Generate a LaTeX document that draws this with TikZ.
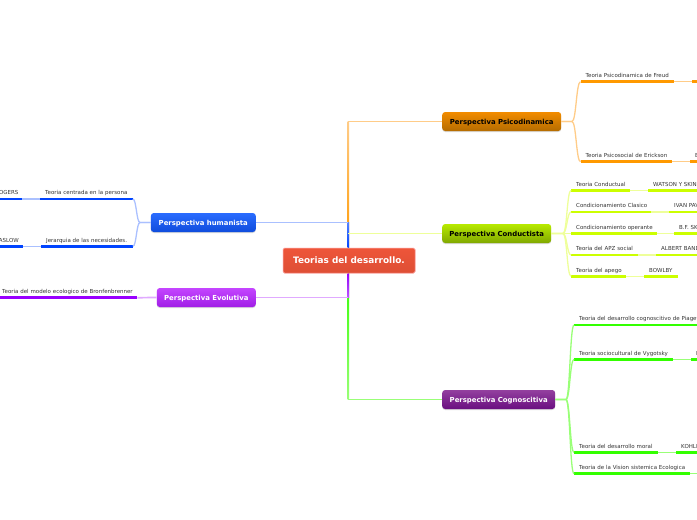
\documentclass[tikz,border=0pt]{standalone}
\usepackage{fontspec}
\setmainfont{DejaVu Sans}
\usetikzlibrary{calc,shadows}
\definecolor{oS}{HTML}{FF9900}\definecolor{oL}{HTML}{FFCC88}
\definecolor{yS}{HTML}{CCFF00}\definecolor{yL}{HTML}{EEFF99}
\definecolor{gS}{HTML}{33FF00}\definecolor{gL}{HTML}{99FF77}
\definecolor{bS}{HTML}{0044FF}\definecolor{bL}{HTML}{AAC0FF}
\definecolor{pS}{HTML}{9900FF}\definecolor{pL}{HTML}{E0AAFF}
\definecolor{txt}{HTML}{333333}
\definecolor{F1}{HTML}{EE5539}\definecolor{F2}{HTML}{DE4F35}
\definecolor{psiT}{HTML}{F28C00}\definecolor{psiB}{HTML}{B56C00}
\definecolor{conT}{HTML}{B8EA00}\definecolor{conB}{HTML}{80A800}
\definecolor{cogT}{HTML}{93409F}\definecolor{cogB}{HTML}{6A0F80}
\definecolor{humT}{HTML}{2A6CFF}\definecolor{humB}{HTML}{0F4CDC}
\definecolor{evoT}{HTML}{C445FF}\definecolor{evoB}{HTML}{A01EE6}
\tikzset{
  x=1pt,y=-1pt,
  branchbox/.style={rounded corners=3pt,minimum height=19pt,inner sep=0pt,anchor=west,
    text height=5pt,text depth=0pt,
    font=\fontsize{6.9}{8}\selectfont\bfseries,
    drop shadow={shadow xshift=0pt,shadow yshift=-1pt,opacity=.3}},
  rootbox/.style={rounded corners=1.5pt,minimum height=25pt,minimum width=132pt,inner sep=0pt,
    text height=6.5pt,text depth=0pt,
    font=\fontsize{8.9}{10}\selectfont\bfseries,text=white,draw=white!70!red,line width=.5pt,
    top color=F1,bottom color=F2},
  topicbox/.style={anchor=south west,inner xsep=5pt,inner ysep=3pt,text height=3.7pt,text depth=1pt,
    font=\fontsize{5.5}{6.5}\selectfont,text=txt},
  heavy/.style={line width=2.5pt},
  soft/.style={line width=1.3pt},
  trunk/.style={line width=1.7pt},
}
% name, x1, x2, y, colour, text
\newcommand{\topicnode}[6]{%
  \pgfmathsetmacro{\mytw}{#3-#2-10}%
  \node[topicbox,text width=\mytw pt] (#1) at (#2,#4) {\makebox[0pt][l]{#6}};
  \draw[heavy,#5] (#1.south west) -- (#1.south east);
}
% from, junction x, topic, colour ; right-hand side
\newcommand{\rlink}[4]{\draw[soft,#4] (#1.east) -- (#2,0 |- #1.east) coordinate (J)
   .. controls ($(J)!.5!(#3.south west |- J)$) and ($(#3.south west)!.5!(J |- #3.south west)$) .. (#3.south west);}
\newcommand{\llink}[4]{\draw[soft,#4] (#1.west) -- (#2,0 |- #1.west) coordinate (J)
   .. controls ($(J)!.5!(#3.south east |- J)$) and ($(#3.south east)!.5!(J |- #3.south east)$) .. (#3.south east);}
\newcommand{\clink}[3]{\draw[soft,#3] (#1.south east) -- (#2.south west);}
\begin{document}
\begin{tikzpicture}
\clip (0,0) rectangle (697,520);
% nodes
\node[rootbox] (root) at (349,260.5) {Teorias del desarrollo.};
\node[branchbox,minimum width=119pt,top color=psiT,bottom color=psiB,text=black] (psi) at (442,121.5) {Perspectiva Psicodinamica};
\node[branchbox,minimum width=109pt,top color=conT,bottom color=conB,text=black] (con) at (442,233.5) {Perspectiva Conductista};
\node[branchbox,minimum width=113pt,top color=cogT,bottom color=cogB,text=white] (cog) at (442,399.5) {Perspectiva Cognoscitiva};
\node[branchbox,anchor=east,minimum width=105pt,top color=humT,bottom color=humB,text=white] (hum) at (256,222.5) {Perspectiva humanista};
\node[branchbox,anchor=east,minimum width=99pt,top color=evoT,bottom color=evoB,text=white] (evo) at (256,297.5) {Perspectiva Evolutiva};
% trunks
\shade[top color=oL,bottom color=oS] ($(root.north |- psi.west)+(-1.5,0)$) rectangle ($(root.north)+(.1,0)$);
\shade[top color=bL!50!bS,bottom color=bS] ($(root.north |- hum.east)+(-1.5,0)$) rectangle ($(root.north)+(.1,0)$);
\shade[top color=gS,bottom color=gL] ($(root.south)+(-1.5,0)$) rectangle ($(root.south |- cog.west)+(.1,0)$);
\shade[top color=pS,bottom color=pL!50!pS] ($(root.south)+(-1.5,0)$) rectangle ($(root.south |- evo.east)+(.1,0)$);
\node[rootbox] at (root) {Teorias del desarrollo.};
% Psicodinamica
\topicnode{a1}{580.5}{674}{81.7}{oS}{Teoria Psicodinamica de Freud}
\topicnode{a1b}{692}{760}{81.7}{oS}{}
\topicnode{a2}{580.5}{672}{161.7}{oS}{Teoria Psicosocial de Erickson}
\topicnode{a2b}{690}{760}{161.7}{oS}{E}
\rlink{psi}{572}{a1}{oL}\rlink{psi}{572}{a2}{oL}
\clink{a1}{a1b}{oL}\clink{a2}{a2b}{oL}
% Conductista
\topicnode{b1}{571}{630}{190.3}{yS}{Teoria Conductual}
\topicnode{b1b}{648}{760}{190.3}{yS}{WATSON Y SKINNER}
\topicnode{b2}{571}{651}{212}{yS}{Condicionamiento Clasico}
\topicnode{b2b}{669}{760}{212}{yS}{IVAN PAVLOV}
\topicnode{b3}{571}{657}{233.5}{yS}{Condicionamiento operante}
\topicnode{b3b}{674}{760}{233.5}{yS}{B.F. SKINNER}
\topicnode{b4}{571}{638}{255}{yS}{Teoria del APZ social}
\topicnode{b4b}{656}{760}{255}{yS}{ALBERT BANDURA}
\topicnode{b5}{571}{626}{276.3}{yS}{Teoria del apego}
\topicnode{b5b}{644}{678}{276.3}{yS}{BOWLBY}
\foreach \tn in {b1,b2,b3,b4,b5}{\rlink{con}{563}{\tn}{yL}\clink{\tn}{\tn b}{yL}}
% Cognoscitiva
\topicnode{c1}{574}{760}{325}{gS}{Teoria del desarrollo cognoscitivo de Piaget}
\topicnode{c2}{574}{673}{359.3}{gS}{Teoria sociocultural de Vygotsky}
\topicnode{c2b}{691}{760}{359.3}{gS}{L}
\topicnode{c3}{574}{658}{452.3}{gS}{Teoria del desarrollo moral}
\topicnode{c3b}{676}{760}{452.3}{gS}{KOHLBERG}
\topicnode{c4}{574}{690}{473.7}{gS}{Teoria de la Vision sistemica Ecologica}
\coordinate (c4end) at (720,473.7);
\foreach \tn in {c1,c2,c3,c4}{\rlink{cog}{566}{\tn}{gL}}
\clink{c2}{c2b}{gL}\clink{c3}{c3b}{gL}
\draw[soft,gL] (c4.south east) -- (c4end);
% Humanista
\topicnode{d1}{40}{132.5}{199}{bS}{Teoria centrada en la persona}
\topicnode{d1b}{-10}{22}{199}{bS}{ROGERS}
\topicnode{d2}{41}{132.5}{246.3}{bS}{Jerarquia de las necesidades.}
\topicnode{d2b}{-11}{23}{246.3}{bS}{MASLOW}
\llink{hum}{140}{d1}{bL}\llink{hum}{140}{d2}{bL}
\clink{d1b}{d1}{bL}\clink{d2b}{d2}{bL}
% Evolutiva
\topicnode{e1}{-3}{137}{297.7}{pS}{Teoria del modelo ecologico de Bronfenbrenner}
\draw[trunk,pL] (evo.west) -- (e1.south east);
% root-to-branch horizontals
\draw[trunk,oL] (psi.west) -- ($(root.north |- psi.west)+(-.7,0)$);
\draw[soft,yL] (con.west) -- ($(root.north |- con.west)+(-.7,0)$);
\draw[trunk,gL] (cog.west) -- ($(root.south |- cog.west)+(-.7,0)$);
\draw[trunk,bL] (hum.east) -- ($(root.north |- hum.east)+(-.7,0)$);
\draw[trunk,pL] (evo.east) -- ($(root.south |- evo.east)+(-.7,0)$);
\end{tikzpicture}
\end{document}
